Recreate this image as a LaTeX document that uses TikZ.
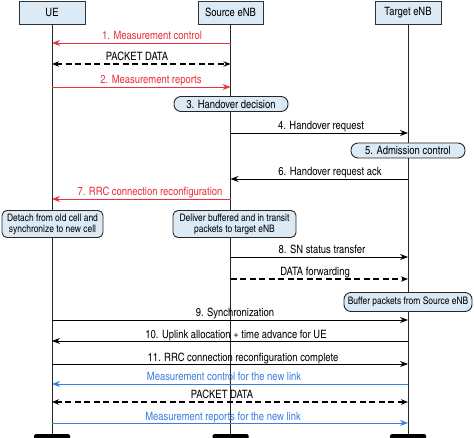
\documentclass[tikz,border=0pt]{standalone}
\usepackage{fontspec}
\setmainfont{texgyreheroscn}[Extension=.otf,UprightFont=*-regular,BoldFont=*-bold]
\usetikzlibrary{arrows.meta}
\definecolor{boxfill}{HTML}{DCEAF6}
\definecolor{msgred}{HTML}{E8323C}
\definecolor{msgblue}{HTML}{3A7FE0}
\tikzset{
  hdr/.style={draw=black!80,line width=0.9pt,fill=boxfill,minimum height=23pt,minimum width=66pt,inner sep=0pt,font=\fontsize{11.5}{12}\selectfont},
  evt/.style={draw=black!85,line width=0.9pt,fill=boxfill,rounded corners=7pt,minimum height=15pt,inner sep=0pt,font=\fontsize{11.5}{12}\selectfont},
  evt2/.style={draw=black!85,line width=0.9pt,fill=boxfill,rounded corners=5pt,minimum height=27pt,inner sep=0pt,align=center,font=\fontsize{10.3}{10.8}\selectfont},
  bar/.style={fill=black,rounded corners=1.5pt,minimum width=36pt,minimum height=8pt,inner sep=0pt},
  life/.style={line width=0.9pt,black!85},
  msg/.style={line width=0.9pt,-{Stealth[length=8pt,width=6pt]}},
  dmsg/.style={line width=1.4pt,dash pattern=on 6pt off 3.5pt,{Stealth[length=7pt,width=5.5pt]}-{Stealth[length=7pt,width=5.5pt]}},
  dmsgone/.style={line width=1.4pt,dash pattern=on 6pt off 3.5pt,-{Stealth[length=7pt,width=5.5pt]}},
  lbl/.style={font=\fontsize{11.5}{12}\selectfont,inner sep=0pt,anchor=base}
}
\begin{document}
\begin{tikzpicture}[x=1pt,y=-1pt]
\useasboundingbox (0,0) rectangle (474,438);
% header boxes
\node[hdr] (ue) at (52,12.5) {UE};
\node[hdr,minimum width=65pt] (src) at (230.5,12.5) {Source eNB};
\node[hdr] (tgt) at (408,12.5) {Target eNB};
% bottom bars
\node[bar] (ueb) at (52,438) {};
\node[bar] (srcb) at (230.5,438) {};
\node[bar] (tgtb) at (408,438) {};
% lifelines
\draw[life] (ue.south) -- (ueb.north);
\draw[life] (src.south) -- (srcb.north);
\draw[life] (tgt.south) -- (tgtb.north);
% 1
\draw[msg,msgred] (src |- 0,43) -- (ue |- 0,43);
\node[lbl,msgred] (l1) at (152,40) {1. Measurement control};
% packet data
\draw[dmsg] (ue |- 0,64) -- (src |- 0,64);
\node[lbl] (lp1) at (137,61) {PACKET DATA};
% 2
\draw[msg,msgred] (ue |- 0,87) -- (src |- 0,87);
\node[lbl,msgred] (l2) at (151,84) {2. Measurement reports};
% 3
\node[evt,minimum width=114pt] (hd) at (231,104) {3. Handover decision};
% 4
\draw[msg] (src |- 0,133) -- (tgt |- 0,133);
\node[lbl] (l4) at (321,130) {4. Handover request};
% 5
\node[evt,minimum width=114pt] (ac) at (408,150.5) {5. Admission control};
% 6
\draw[msg] (tgt |- 0,179) -- (src |- 0,179);
\node[lbl] (l6) at (330,176) {6. Handover request ack};
% 7
\draw[msg,msgred] (src |- 0,199) -- (ue |- 0,199);
\node[lbl,msgred] (l7) at (150,196) {7. RRC connection reconfiguration};
% boxes
\node[evt2,minimum width=101pt] (det) at (52.5,224) {Detach from old cell and\\synchronize to new cell};
\node[evt2,minimum width=123pt] (del) at (234.5,224) {Deliver buffered and in transit\\packets to target eNB};
% 8
\draw[msg] (src |- 0,257) -- (tgt |- 0,257);
\node[lbl] (l8) at (322,254) {8. SN status transfer};
% data forwarding
\draw[dmsgone] (src |- 0,279) -- (tgt |- 0,279);
\node[lbl] (ldf) at (315,276) {DATA forwarding};
% buffer
\node[evt,minimum width=128pt,minimum height=19pt,font=\fontsize{10.3}{11}\selectfont] (buf) at (408,302) {Buffer packets from Source eNB};
% 9
\draw[msg] (ue |- 0,320) -- (tgt |- 0,320);
\node[lbl] (l9) at (235,317) {9. Synchronization};
% 10
\draw[msg] (tgt |- 0,341) -- (ue |- 0,341);
\node[lbl] (l10) at (236,338) {10. Uplink allocation + time advance for UE};
% 11
\draw[msg] (ue |- 0,364) -- (tgt |- 0,364);
\node[lbl] (l11) at (243,361) {11. RRC connection reconfiguration complete};
% new link
\draw[msg,msgblue] (tgt |- 0,384) -- (ue |- 0,384);
\node[lbl,msgblue] (l12) at (224,381) {Measurement control for the new link};
\draw[dmsg] (tgt |- 0,402) -- (ue |- 0,402);
\node[lbl] (lp2) at (222,399) {PACKET DATA};
\draw[msg,msgblue] (ue |- 0,423) -- (tgt |- 0,423);
\node[lbl,msgblue] (l13) at (223,420) {Measurement reports for the new link};
\end{tikzpicture}
\end{document}
